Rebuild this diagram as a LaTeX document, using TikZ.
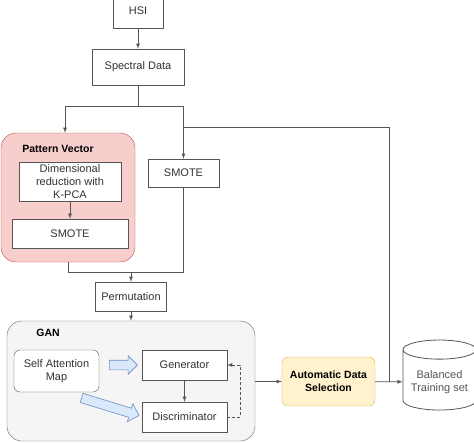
\documentclass[tikz,border=0pt]{standalone}
\usepackage{fontspec}
\setmainfont{Liberation Sans}
\usetikzlibrary{shapes,arrows,shapes.geometric}

\definecolor{linegray}{HTML}{555555}
\definecolor{textgray}{HTML}{333333}
\definecolor{pvfill}{HTML}{F8CECC}
\definecolor{pvdraw}{HTML}{B85450}
\definecolor{ganfill}{HTML}{F5F5F5}
\definecolor{gandraw}{HTML}{666666}
\definecolor{adsfill}{HTML}{FFF2CC}
\definecolor{adsdraw}{HTML}{D6B656}
\definecolor{bafill}{HTML}{DAE8FC}
\definecolor{badraw}{HTML}{6C8EBF}

\tikzset{
  box/.style={rectangle, draw=linegray, fill=white, text=textgray, align=center, inner sep=2pt},
  group/.style={rectangle, rounded corners=15pt, inner sep=0pt},
  conn/.style={draw=linegray, line width=0.8pt},
  blockarrow/.style={single arrow, draw=badraw, fill=bafill, inner sep=4.5pt,
    single arrow head extend=4.5pt, line width=0.6pt}
}

\begin{document}
\begin{tikzpicture}[x=1pt, y=-1pt, >=latex, font=\fontsize{11}{13}\selectfont]
        \useasboundingbox (0,0) rectangle (474,442);

        % Input and spectral data
        \node[box, minimum width=50pt, minimum height=34pt] (hsi) at (138,11) {HSI};
        \node[box, minimum width=92pt, minimum height=36pt] (spec) at (138,67) {Spectral Data};

        % Pattern vector group
        \node[group, draw=pvdraw, fill=pvfill, minimum width=134pt, minimum height=129pt] (pv) at (68,197.5) {};
        \node[font=\bfseries\fontsize{10.5}{12}\selectfont] (pvlabel) at (58,149) {Pattern Vector};
        \node[box, minimum width=102pt, minimum height=39pt] (kpca) at (70,181.5) {Dimensional\\reduction with\\K-PCA};
        \node[box, minimum width=116pt, minimum height=29pt] (smotein) at (70,233.5) {SMOTE};

        % Plain SMOTE branch
        \node[box, minimum width=71pt, minimum height=28pt] (smote) at (183.5,173) {SMOTE};
        \node[box, minimum width=71pt, minimum height=29pt] (perm) at (131,296.5) {Permutation};

        % GAN group
        \node[group, draw=gandraw, fill=ganfill, minimum width=248pt, minimum height=120pt] (gan) at (131,381) {};
        \node[font=\bfseries\fontsize{10.5}{12}\selectfont] (ganlabel) at (48,333) {GAN};
        \node[box, rounded corners=6pt, minimum width=85pt, minimum height=42pt] (sam) at (56.5,371) {Self Attention\\Map};
        \node[box, minimum width=85pt, minimum height=30pt] (gen) at (184.5,365) {Generator};
        \node[box, minimum width=85pt, minimum height=30pt] (disc) at (184.5,417) {Discriminator};
        \node[blockarrow, minimum height=28pt] (samgen) at (121,365) {};
        \node[blockarrow, minimum height=60pt, rotate=-17] (samdisc) at (108,406) {};

        % Selection and output
        \node[box, rounded corners=6pt, draw=adsdraw, fill=adsfill, text=black, minimum width=93pt, minimum height=49pt,
              font=\bfseries\fontsize{10.5}{13}\selectfont] (ads) at (328.5,381.5) {Automatic Data\\Selection};
        \node[cylinder, shape border rotate=90, aspect=0.3, draw=linegray, fill=white, text=linegray,
              minimum width=73pt, minimum height=70pt, align=center, line width=0.8pt] (db) at (439.5,382) {Balanced\\Training set};

        % Connectors
        \coordinate (split) at (138,106);
        \coordinate (bypass) at (389,127);
        \coordinate (merge) at (131,272);
        \draw[conn, ->] (hsi) -- (spec);
        \draw[conn] (spec.south) -- (split);
        \draw[conn, ->] (split) -| ([xshift=-3pt]pv.north);
        \draw[conn, ->] (split) -| (smote.north);
        \draw[conn] (smote.north |- bypass) -- (bypass) -- (bypass |- db.west);
        \draw[conn, ->] (kpca) -- (smotein);
        \draw[conn] (pv.south) |- (smote.south |- merge) -- (smote.south);
        \draw[conn, ->] (merge) -- (perm);
        \draw[conn, ->] (perm) -- (gan);
        \draw[conn, ->] (gen) -- (disc);
        \draw[conn, ->, densely dashed] (disc.east) -- ++(13,0) |- (gen.east);
        \draw[conn, ->] (gan.east |- ads.west) -- (ads);
        \draw[conn, ->] (ads) -- (db);
\end{tikzpicture}
\end{document}
